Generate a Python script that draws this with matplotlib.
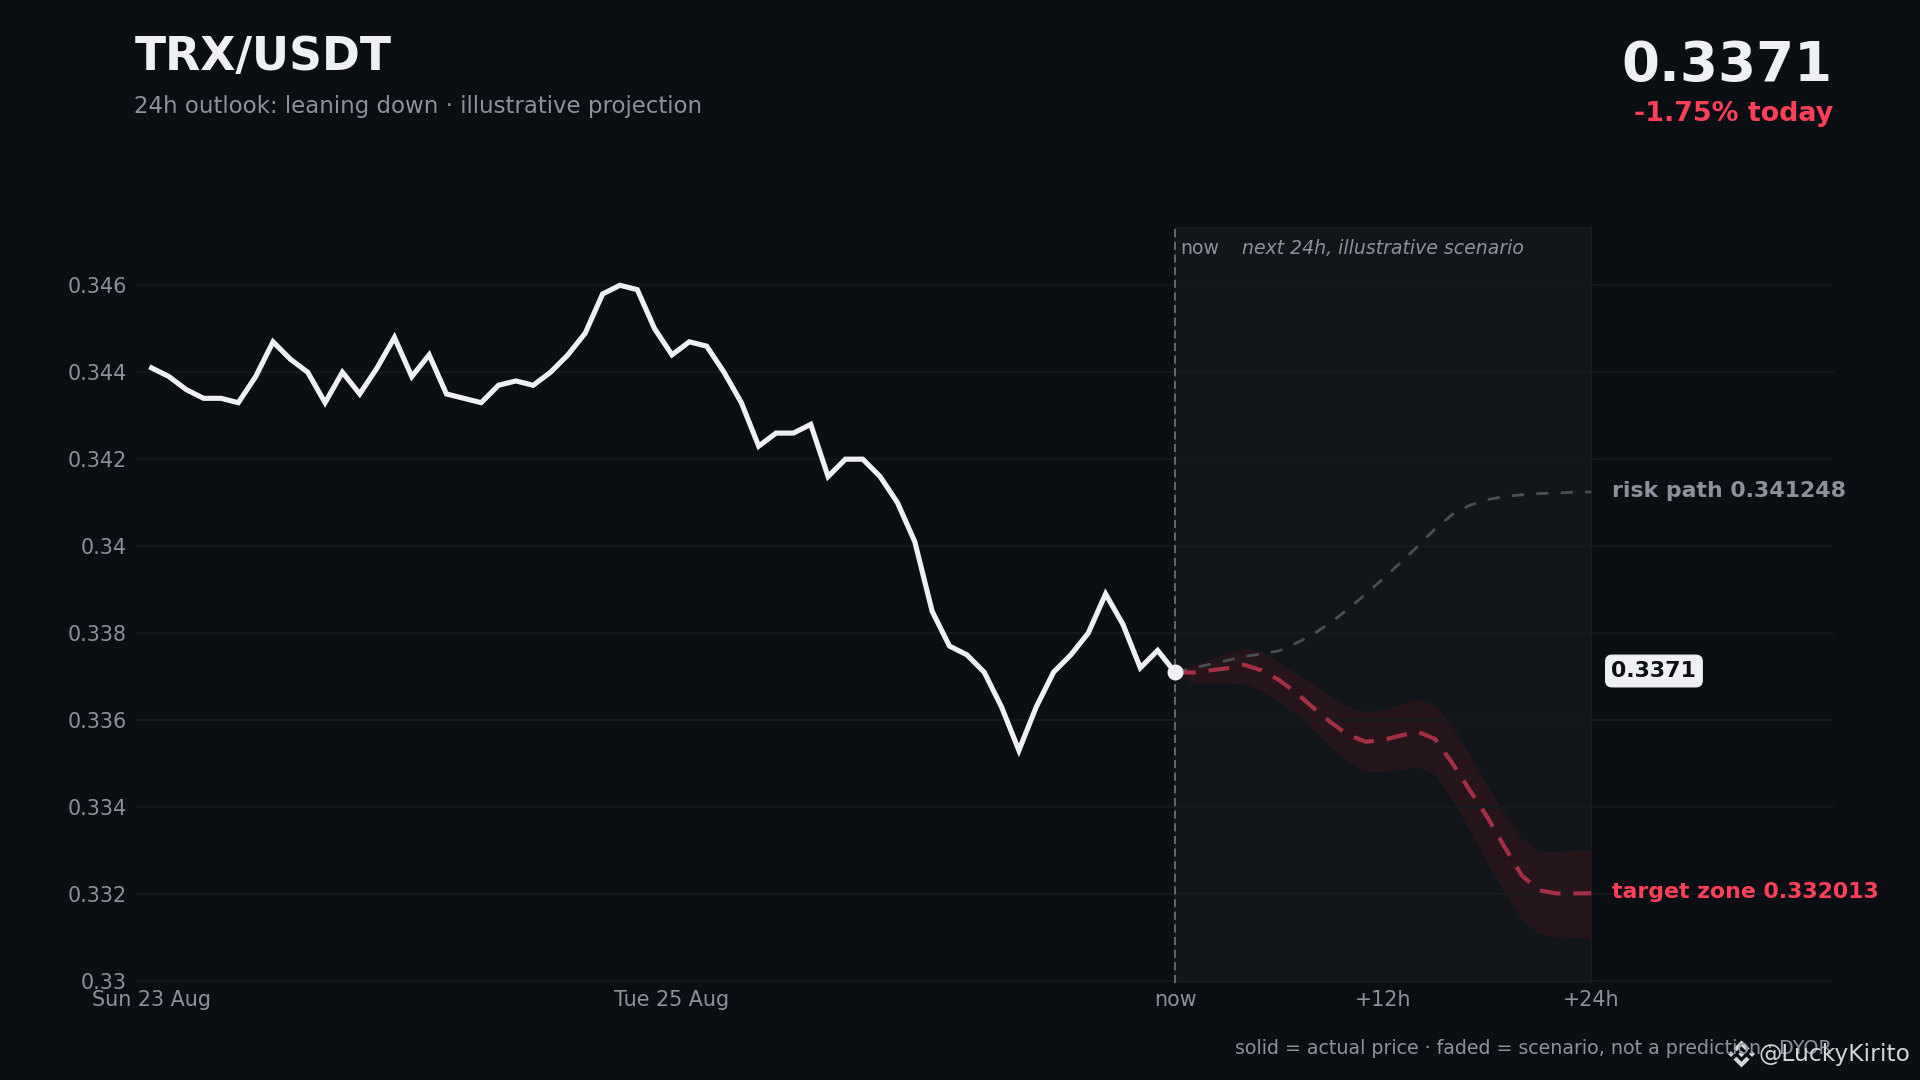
import matplotlib
matplotlib.use("Agg")
import matplotlib.pyplot as plt
from matplotlib.patches import Polygon
import numpy as np

# ---------- data ----------
history = [0.3441,0.3439,0.3436,0.3434,0.3434,0.3433,0.3439,0.3447,0.3443,0.3440,
           0.3433,0.3440,0.3435,0.3441,0.3448,0.3439,0.3444,0.3435,0.3434,0.3433,
           0.3437,0.3438,0.3437,0.3440,0.3444,0.3449,0.3458,0.3460,0.3459,0.3450,
           0.3444,0.3447,0.3446,0.3440,0.3433,0.3423,0.3426,0.3426,0.3428,0.3416,
           0.3420,0.3420,0.3416,0.3410,0.3401,0.3385,0.3377,0.3375,0.3371,0.3363,
           0.3353,0.3363,0.3371,0.3375,0.3380,0.3389,0.3382,0.3372,0.3376,0.3371]
target_path = [0.3371,0.33709,0.33714,0.33719,0.33727,0.33714,0.33692,0.33662,0.33627,0.33594,
               0.33565,0.3355,0.33554,0.33564,0.33573,0.33556,0.335,0.33438,0.33377,0.33308,
               0.33242,0.33208,0.33201,0.33201,0.332013]
band_upper = [0.3371,0.33725,0.3374,0.33754,0.33765,0.33758,0.33732,0.33706,0.33681,0.33654,
              0.33631,0.33619,0.33623,0.33636,0.33648,0.33635,0.33585,0.33519,0.3345,0.33385,
              0.33327,0.33298,0.33298,0.333,0.33302]
band_lower = [0.3371,0.33686,0.33685,0.33685,0.33683,0.33668,0.33642,0.33612,0.33577,0.33538,
              0.33504,0.33481,0.33481,0.33487,0.33492,0.33475,0.33415,0.33346,0.33273,0.33204,
              0.33142,0.33108,0.33102,0.331,0.33098]
risk_path = [0.3371,0.33719,0.33728,0.33737,0.33746,0.33752,0.33759,0.33777,0.33798,0.33825,
             0.33856,0.3389,0.33925,0.33962,0.34,0.3404,0.34073,0.34094,0.34107,0.34114,
             0.34118,0.34121,0.34122,0.34124,0.341248]
y_ticks = [0.33,0.332,0.334,0.336,0.338,0.34,0.342,0.344,0.346]
y_labels = ["0.33","0.332","0.334","0.336","0.338","0.34","0.342","0.344","0.346"]
x_ticks = [0,30,59,71,83]
x_labels = ["Sun 23 Aug","Tue 25 Aug","now","+12h","+24h"]
last_price = "0.3371"
change_text = "-1.75% today"

BG="#0b0f13"; SHADE="#12161a"; GRID="#161b20"; WHITE="#eef0f4"; GRAY="#8b929e"; RED="#ff4058"

plt.rcParams['font.family']=['DejaVu Sans']
W,H=1920,1080
fig=plt.figure(figsize=(19.2,10.8),dpi=100,facecolor=BG)
L,R,T,B=134.6,1834.0,226.5,983.0
ax=fig.add_axes([L/W,1-B/H,(R-L)/W,(B-T)/H],facecolor=BG)
hx=np.arange(len(history))
fx=np.arange(len(target_path))+len(history)-1
X0=151.6
xstep=(1175-X0)/59
ax.set_xlim((L-X0)/xstep,(R-X0)/xstep)
ystep=(980.8-285.3)/0.016
ax.set_ylim(0.33-(B-980.8)/ystep,0.33+(980.8-T)/ystep)
for s in ax.spines.values(): s.set_visible(False)
ax.set_yticks(y_ticks,y_labels)
ax.set_xticks(x_ticks,x_labels)
ax.tick_params(axis='both',length=0,colors=GRAY,labelsize=14.9)
ax.tick_params(axis='y',pad=5.5)
ax.tick_params(axis='x',pad=4.7)
ax.grid(axis='y',color=GRID,lw=1.2,zorder=3)
ax.set_axisbelow(False)
ax.axvspan(59,83,facecolor=SHADE,edgecolor="#191d21",lw=1,zorder=1)
ax.axvline(59,color="#6a6f76",lw=1.3,ls=(0,(4.5,2.5)),zorder=4)
ax.fill_between(fx,band_lower,band_upper,color="#26161c",lw=0,zorder=2)
ax.plot(fx,risk_path,color="#4b4f55",lw=2.0,ls=(0,(4.4,4.4)),zorder=5)
ax.plot(fx,target_path,color="#a52f45",lw=3.0,ls=(0,(5,3.1)),zorder=5)
ax.plot(hx,history,color=WHITE,lw=3.7,solid_joinstyle='miter',zorder=6)
ax.plot(hx[-1:],history[-1:],'o',color=WHITE,ms=11.5,zorder=7,mew=0)

def ft(px,py,s,**k):
    return fig.text(px/W,1-py/H,s,**k)
ft(134.5,57,"TRX/USDT",color=WHITE,fontsize=32.9,fontweight='bold',va='center')
ft(134.5,106,"24h outlook: leaning down · illustrative projection",color=GRAY,fontsize=16.5,va='center')
ft(1833,66,last_price,color=WHITE,fontsize=39.3,fontweight='bold',va='center',ha='right')
ft(1833,114,change_text,color=RED,fontsize=19.4,fontweight='bold',va='center',ha='right')
ft(1180.5,248.5,"now",color=GRAY,fontsize=13.6,va='center')
ft(1242,248.5,"next 24h, illustrative scenario",color=GRAY,fontsize=13.6,style='italic',va='center')
ft(1611.5,491,"risk path 0.341248",color=GRAY,fontsize=15.8,fontweight='bold',va='center')
ft(1611.5,892,"target zone 0.332013",color=RED,fontsize=15.8,fontweight='bold',va='center')
ft(1611.5,671,last_price,color="#0b0f13",fontsize=15.8,fontweight='bold',va='center',
   bbox=dict(boxstyle="round,pad=0.27,rounding_size=0.3",fc=WHITE,ec=WHITE,lw=0.8),zorder=8)
ft(1832,1048,"solid = actual price · faded = scenario, not a prediction · DYOR",color=GRAY,fontsize=13.65,va='center',ha='right')
ft(1758,1055,"@LuckyKirito",color="#d0d3d7",fontsize=16.8,va='center',zorder=10)

# watermark logo, pixel geometry relative to its centre
over=fig.add_axes([0,0,1,1],facecolor='none'); over.set_xlim(0,W); over.set_ylim(H,0); over.axis('off')
lc,ly=1741.5,1054
LOGO="#d5d7da"
def poly(pts):
    over.add_patch(Polygon([(lc+a,ly+b) for a,b in pts],closed=True,fc=LOGO,ec='none'))
for sign in (1,-1):
    poly([(0,sign*13.5),(-8,sign*5.5),(-5,sign*2.7),(0,sign*7.7),(5,sign*2.7),(8,sign*5.5)])
    poly([(sign*10.5-3,0),(sign*10.5,-3),(sign*10.5+3,0),(sign*10.5,3)])
poly([(-3.2,0),(0,-3.2),(3.2,0),(0,3.2)])
fig.savefig("out.png",dpi=100,facecolor=BG)
